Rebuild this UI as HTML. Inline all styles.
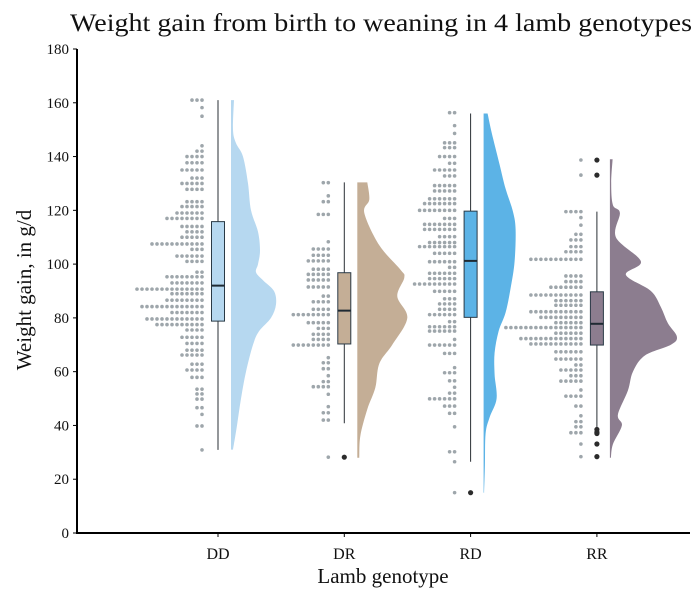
<!DOCTYPE html>
<html><head><meta charset="utf-8">
<style>
html,body{margin:0;padding:0;background:#fff;}
svg{display:block;font-family:"Liberation Serif",serif;}
</style></head>
<body>
<svg id="chart" width="700" height="600" viewBox="0 0 700 600" xmlns="http://www.w3.org/2000/svg">
<text x="70" y="31" font-size="25" textLength="622" lengthAdjust="spacingAndGlyphs" fill="#111" font-family="Liberation Serif, serif">Weight gain from birth to weaning in 4 lamb genotypes</text>
<text transform="translate(31,290) rotate(-90)" text-anchor="middle" font-size="21" fill="#111">Weight gain, in g/d</text>
<text x="383" y="583" text-anchor="middle" font-size="21" fill="#111">Lamb genotype</text>
<g id="plot"></g>
</svg>
<script>
const categories = ["DD","DR","RD","RR"];
const colors = ["#b6d8f0","#c4ae96","#5cb3e6","#8c7d8f"];
const yTicks = [0,20,40,60,80,100,120,140,160,180];

const ddDotVals = [161,158.2,155,144,142,140,137.7,135,132,130,127.8,123.2,121.4,119,117,114,112,110,107.5,105.5,103,101,97,95.3,93,90.7,89,86.6,84.2,82,79.6,77.5,75.5,72.8,70.5,68,66.2,62.8,60.6,57.9,53.5,51.7,49.8,46.6,44.1,39.8,30.9];
const ddDotCounts = [3,1,1,1,2,4,4,5,3,5,4,4,5,6,8,5,4,5,11,3,6,4,2,8,7,14,7,8,13,7,12,10,4,5,4,4,5,3,4,3,2,2,2,2,1,2,1];
const drDotVals = [130.3,125.4,123.2,118.5,108.3,105.6,103.3,101.2,98.1,96.2,94.1,91.5,88.1,86,83.2,81.2,78.2,76.1,73.9,72,69.9,65.2,63.3,61.1,58.5,56.3,54.4,51.6,47,44.7,42,28.2];
const drDotCounts = [2,1,2,3,1,4,4,5,4,5,5,5,2,4,4,8,5,3,4,4,8,1,2,2,1,2,4,1,1,2,2,1];
const rdDotVals = [156.3,151.5,148.6,145.1,143.3,140,137.5,135,132.8,129.2,127.2,124.3,122.5,120,117,114.8,112.9,110.2,108,106.5,104,100.9,98.8,96.6,94.6,92.6,89.9,87.1,85.2,83.2,81.2,78.6,76.7,75.1,72,69.9,66.8,61.5,59.6,56.6,54.2,52,49.9,47.2,44.5,39.5,30.2,26.5,15];
const rdDotCounts = [2,1,1,3,3,4,2,5,3,5,5,6,7,8,3,7,7,4,6,8,5,6,2,6,6,9,5,3,4,4,6,2,6,6,1,6,3,1,3,2,1,2,6,3,2,1,2,1,1];
const rrDotVals = [138.7,133.1,119.5,117.3,114.5,111.1,109,106.5,104.6,101.8,95.6,93.5,91.4,88.5,86.4,84.7,82.3,80.2,78.2,76.4,74.3,72.3,70.3,67.4,64.7,62.5,60.6,58.5,56.5,53.2,50.9,47.2,43.6,41.4,39.5,37.3,33.1,28.4];
const rrDotCounts = [1,1,4,1,1,2,3,3,4,11,4,4,7,11,6,6,11,9,6,16,6,13,11,6,6,2,5,3,5,1,4,2,1,2,2,3,1,1];

// box stats: [lowWhisker, q1, median, q3, highWhisker]
const ddBox = [30.9,78.8,92,115.8,161];
const drBox = [40.8,70.3,82.7,96.8,130.4];
const rdBox = [26.5,80.2,101.2,119.7,156];
const rrBox = [38.9,69.9,77.8,89.7,119.5];
const ddOutliers = [];
const drOutliers = [28.2];
const rdOutliers = [15];
const rrOutliers = [138.7,133.1,38.5,37.5,37,33.1,28.4];

// density: values and half-widths
const ddDensVals = [161,150,145,140,130,120,112,105,100,97,94,90,85,80,75,70,60,50,40,31];
const ddDensW = [3,2,5,12,17,20,27,29,27,25,32,43,45,40,28,22,15,10,6,2];
const drDensVals = [130.4,124,119,107,98,95,88,80,70,63,54,46,36,28];
const drDensW = [10,12,7,22,43,47,40,50,35,22,18,10,3,2];
const rdDensVals = [156,149,137,128,120,113,101,91,82,75,67,59,50,43,37,25,15];
const rdDensW = [4,8,16,22,29,32,31,27,22,15,11,11,13,6,2,1.3,0.5];
const rrDensVals = [139,130,122,119,110,101,96,90,84,78,73,70,66,60,53,44,40,33,28];
const rrDensW = [2.7,1.3,3,10,6,31,16,41,51,58,67,61,35,23,18,8,12,3,1];

const dotVals=[ddDotVals,drDotVals,rdDotVals,rrDotVals];
const dotCounts=[ddDotCounts,drDotCounts,rdDotCounts,rrDotCounts];
const boxes=[ddBox,drBox,rdBox,rrBox];
const outliers=[ddOutliers,drOutliers,rdOutliers,rrOutliers];
const densVals=[ddDensVals,drDensVals,rdDensVals,rrDensVals];
const densW=[ddDensW,drDensW,rdDensW,rrDensW];

const y0=533, y1=49, yMax=180;
function yS(v){return y0-(v/yMax)*(y0-y1);}
function xS(i){return 218+i*126.3;}

const NS="http://www.w3.org/2000/svg";
const g=document.getElementById('plot');
function mk(t,a){const e=document.createElementNS(NS,t);for(const k in a)e.setAttribute(k,a[k]);g.appendChild(e);return e;}

function smoothPath(pts){
  let d="";
  for(let i=0;i<pts.length-1;i++){
    const p0=pts[Math.max(0,i-1)],p1=pts[i],p2=pts[i+1],p3=pts[Math.min(pts.length-1,i+2)];
    const c1x=p1[0]+(p2[0]-p0[0])/6,c1y=p1[1]+(p2[1]-p0[1])/6;
    const c2x=p2[0]-(p3[0]-p1[0])/6,c2y=p2[1]-(p3[1]-p1[1])/6;
    d+=" C"+c1x.toFixed(1)+","+c1y.toFixed(1)+" "+c2x.toFixed(1)+","+c2y.toFixed(1)+" "+p2[0].toFixed(1)+","+p2[1].toFixed(1);
  }
  return d;
}

categories.forEach((c,i)=>{
  const cx=xS(i);
  const pts=densVals[i].map((v,j)=>[cx+13+densW[i][j],yS(v)]);
  let d="M"+(cx+13)+","+yS(densVals[i][0])+" L"+pts[0][0]+","+pts[0][1]+smoothPath(pts);
  d+=" L"+(cx+13)+","+yS(densVals[i][densVals[i].length-1])+" Z";
  const p=mk('path',{d:d,fill:colors[i]});
  
  
  dotVals[i].forEach((v,j)=>{
    for(let k=0;k<dotCounts[i][j];k++){
      const dt=mk('circle',{cx:cx-16-k*5,cy:yS(v),r:1.8,fill:"#9ea6ab"});
      
      
    }
  });
  const b=boxes[i];
  const wl=mk('line',{x1:cx,x2:cx,y1:yS(b[0]),y2:yS(b[4]),stroke:"#2a2f35","stroke-width":1});
  
  
  const bx=mk('rect',{x:cx-6.5,y:yS(b[3]),width:13,height:yS(b[1])-yS(b[3]),fill:colors[i],stroke:"#2a3a46","stroke-width":1});
  
  
  const md=mk('line',{x1:cx-6.5,x2:cx+6.5,y1:yS(b[2]),y2:yS(b[2]),stroke:"#1f2a33","stroke-width":2});
  
  
  outliers[i].forEach(v=>{
    const o=mk('circle',{cx:cx,cy:yS(v),r:2.6,fill:"#2b2b2b"});
    
    
  });
  const tk=mk('line',{x1:cx,x2:cx,y1:y0,y2:y0+4,stroke:"#000","stroke-width":1});
  
  
  const tl=mk('text',{x:cx,y:559,"text-anchor":"middle","font-size":"16",fill:"#111"});
  tl.textContent=c;
  
  
});

yTicks.forEach(t=>{
  const tk=mk('line',{x1:73,x2:77,y1:yS(t),y2:yS(t),stroke:"#000","stroke-width":1});
  
  
  const tl=mk('text',{x:69,y:yS(t)+5,"text-anchor":"end","font-size":"15",fill:"#111"});
  tl.textContent=t;
  
  
});
const ya=mk('line',{x1:77,x2:77,y1:y1,y2:y0+1,stroke:"#000","stroke-width":2});


const xa=mk('line',{x1:76,x2:690,y1:y0,y2:y0,stroke:"#000","stroke-width":2});


</script>
</body></html>
